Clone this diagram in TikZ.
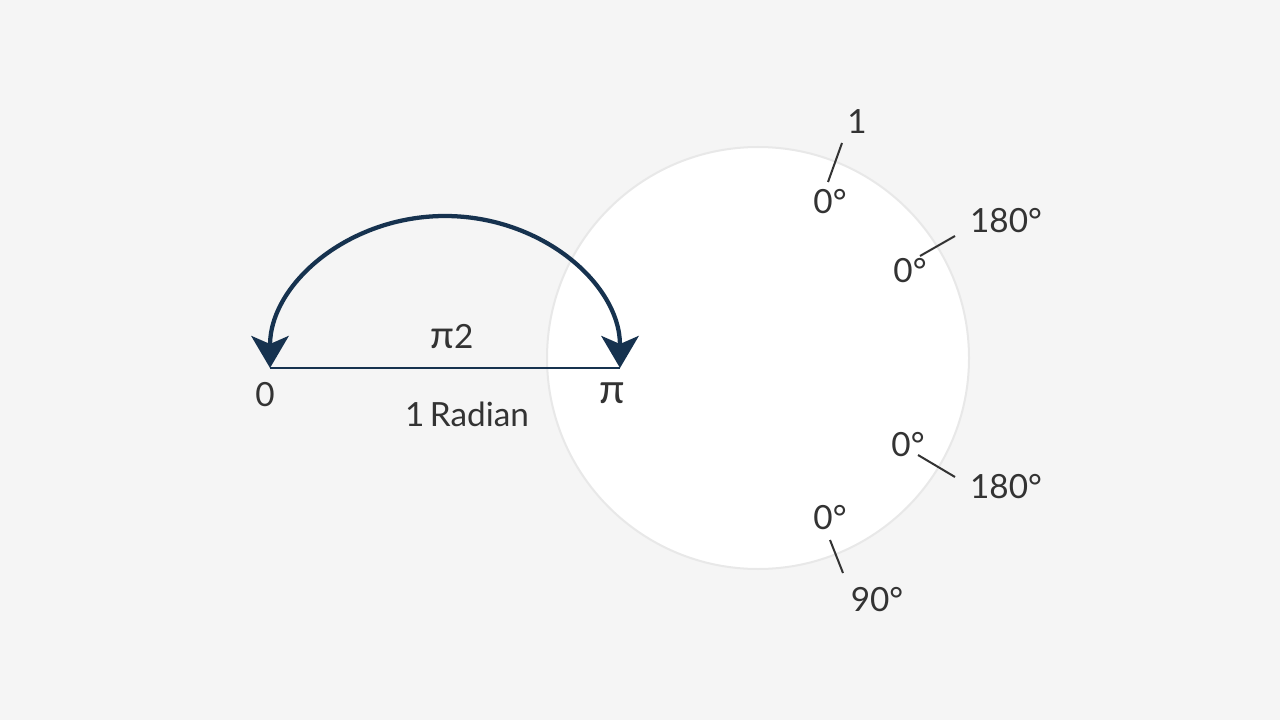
\documentclass[tikz,border=0pt]{standalone}
\usepackage{fontspec}
\setmainfont{Lato}
\usepackage{xcolor}
\definecolor{navy}{RGB}{22,50,79}
\definecolor{ink}{RGB}{51,51,51}
\definecolor{background}{RGB}{245,245,245}
\usepackage{tikz}
\usetikzlibrary{positioning}
\usetikzlibrary{arrows.meta}
\usetikzlibrary{calc}
\tikzset{
  lbl/.style={text=ink,inner sep=0,font=\fontsize{25}{30}\selectfont},
  tick/.style={draw=ink,line width=1.5pt},
}

\begin{document}
\begin{tikzpicture}[x=0.75pt,y=-0.75pt]
%background
\fill [background] (0,0) rectangle (1280,720);
\useasboundingbox (0,0) rectangle (1280,720);

%unit circle
\node (c) at (758,358) [circle,minimum size=422*0.75pt,fill=white,draw=black!9,line width=1.5pt] {};

%radius line and arc
\coordinate (z0) at (270,368);
\coordinate (zpi) at (620,368);
\draw [navy,line width=2pt] (z0) -- (zpi);
\draw [navy,line width=3.2pt,{Stealth[length=24pt,width=28pt,inset=6pt]}-{Stealth[length=24pt,width=28pt,inset=6pt]}] (z0) arc[start angle=180,end angle=360,x radius=175,y radius=152];

%line labels
\node (l0) at (265,395) [lbl] {0};
\node (lpi) at (612,393) [lbl,font=\fontsize{31}{34}\selectfont] {π};
\node (lhalf) at (452,337) [lbl] {{\fontsize{29}{30}\selectfont π}2};
\node (lrad) at (467,414) [lbl] {1\,Radian};

%angle labels round the circle
\node (a1) at (857,122) [lbl] {1};
\node (a2) at (830,202) [lbl] {0°};
\node (a3) at (1006,221) [lbl] {180°};
\node (a4) at (910,271) [lbl] {0°};
\node (a5) at (908,445) [lbl] {0°};
\node (a6) at (1006,487) [lbl] {180°};
\node (a7) at (830,518) [lbl] {0°};
\node (a8) at (877,600) [lbl] {90°};

%ticks
\coordinate (t1) at (842,143); \coordinate (t2) at (828,182);
\coordinate (t3) at (955,236); \coordinate (t4) at (920,256);
\coordinate (t5) at (918,455); \coordinate (t6) at (955,477);
\coordinate (t7) at (830,540); \coordinate (t8) at (843,573);
\foreach \i/\j in {1/2,3/4,5/6,7/8}{
  \draw [tick] (t\i) -- (t\j);
}
\end{tikzpicture}
\end{document}
